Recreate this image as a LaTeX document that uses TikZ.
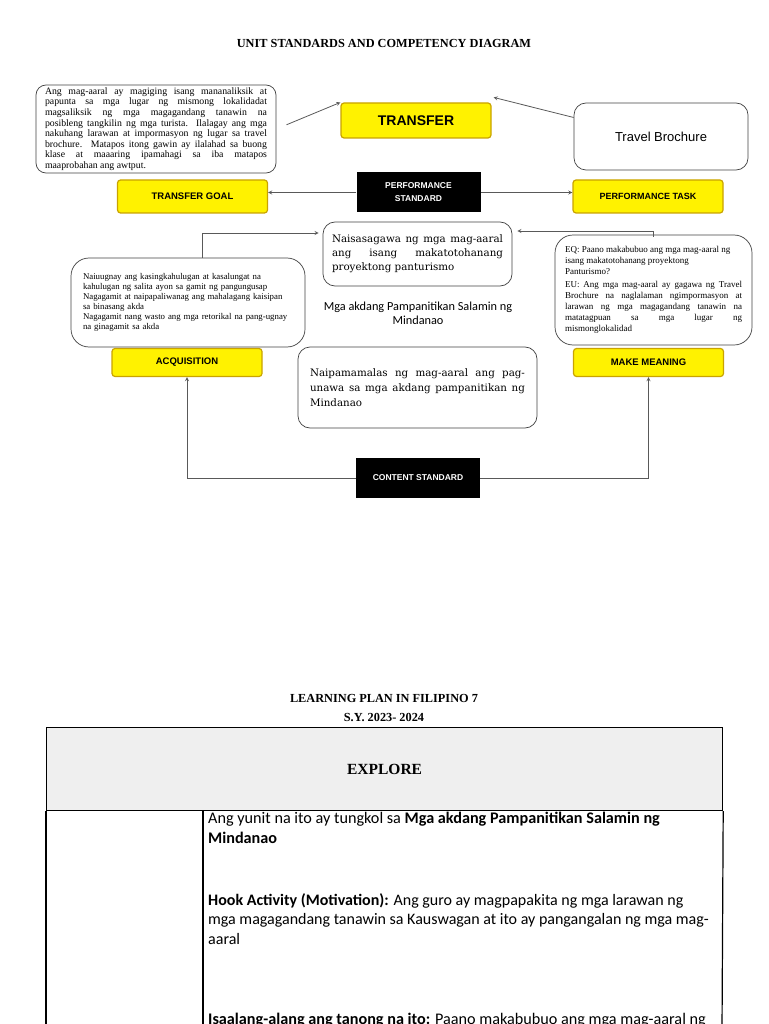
\documentclass[tikz,border=0pt]{standalone}
\usepackage{fontspec}
\setmainfont{Liberation Serif}
\setsansfont{Liberation Sans}
\newfontfamily\calib{Carlito}
\newfontfamily\wideserif{DejaVu Serif}
\usepackage{tikz}
\usetikzlibrary{arrows,positioning}
\definecolor{goldline}{HTML}{C9A300}
\definecolor{headgray}{HTML}{EFEFEF}
\newcommand{\fs}[2]{\fontsize{#1}{#2}\selectfont}
\hyphenpenalty=10000

\begin{document}
\begin{tikzpicture}[x=1pt,y=-1pt,
font=\rmfamily,
goalbox/.style={draw=goldline,fill=yellow,line width=1.2pt,rounded corners=3pt,
  font=\sffamily\bfseries\fs{9.5}{11},minimum width=150pt,minimum height=33pt,inner sep=0pt},
stdbox/.style={fill=black,text=white,align=center,
  font=\sffamily\bfseries\fs{8.5}{13},minimum width=124pt,minimum height=40pt,inner sep=0pt},
notebox/.style={draw=black!75,line width=0.7pt,rounded corners=12pt,inner ysep=2pt},
link/.style={->,>=stealth,draw=black!65,line width=0.8pt}]
    % page size
    \useasboundingbox (0,0) rectangle (768,1024);
    \clip (0,0) rectangle (768,1024);

    % Title
    \node (title) at (384,43) {\bfseries\fs{12.3}{14}UNIT STANDARDS AND COMPETENCY DIAGRAM};

    % top row
    \node[notebox,rounded corners=10pt,minimum width=240pt,minimum height=88pt,
        text width=222pt,inner xsep=9pt,inner ysep=0pt,align=justify,font=\fs{9.8}{10.6}]
        (tgnote) at (156,129) {Ang mag-aaral ay magiging isang mananaliksik at\linebreak papunta sa mga lugar ng mismong lokalidadat\linebreak magsaliksik ng mga magagandang tanawin na\linebreak posibleng tangkilin ng mga turista. Ilalagay ang mga\linebreak nakuhang larawan at impormasyon ng lugar sa travel\linebreak brochure. Matapos itong gawin ay ilalahad sa buong\linebreak klase at maaaring ipamahagi sa iba matapos\linebreak maaprobahan ang awtput.};
    \node[goalbox,minimum height=35pt,font=\sffamily\bfseries\fs{14}{16}] (transfer) at (416,120.5) {TRANSFER};
    \node[notebox,minimum width=174pt,minimum height=67pt,font=\sffamily\fs{13}{15}]
        (brochure) at (661,136.5) {Travel Brochure};

    \draw[link,shorten <=11pt] (tgnote.east) -- (transfer.north west);
    \draw[link] ([yshift=19pt]brochure.west) -- ([shift={(2pt,5pt)}]transfer.north east);

    % performance row
    \node[goalbox] (tgoal) at (192.5,196.5) {TRANSFER GOAL};
    \node[stdbox] (perfstd) at (418.5,192.5) {PERFORMANCE\\STANDARD};
    \node[goalbox,font=\sffamily\bfseries\fs{9}{11}] (ptask) at (648,196.5) {PERFORMANCE TASK};

    \draw[link] (perfstd.west) -- (perfstd.west -| tgoal.east);
    \draw[link] (perfstd.east) -- (perfstd.east -| ptask.west);

    % middle notes
    \node[notebox,minimum width=189pt,minimum height=64pt,text width=171pt,
        inner xsep=9pt,align=justify,font=\wideserif\fs{10.3}{14}]
        (perfnote) at (417.5,254) {Naisasagawa ng mga mag-aaral ang isang makatotohanang proyektong panturismo};
    \node[align=center,font=\calib\fs{12.3}{14}] (unit) at (418,313) {Mga akdang Pampanitikan Salamin ng\\Mindanao};

    \node[notebox,rounded corners=18pt,minimum width=234pt,minimum height=89pt,
        text width=210pt,inner xsep=12pt,align=left,font=\fs{8.8}{10}]
        (acqnote) at (188,302.5) {Naiuugnay ang kasingkahulugan at kasalungat na\\ kahulugan ng salita ayon sa gamit ng pangungusap\\ Nagagamit at naipapaliwanag ang mahalagang kaisipan\\ sa binasang akda\\ Nagagamit nang wasto ang mga retorikal na pang-ugnay\\ na ginagamit sa akda};
    \node[notebox,rounded corners=18pt,minimum width=197pt,minimum height=110pt,
        text width=177pt,inner xsep=10pt,align=justify,font=\fs{9}{11}]
        (eqnote) at (653.5,290) {EQ: Paano makabubuo ang mga mag-aaral ng\\ isang makatotohanang proyektong\\ Panturismo?\par\vspace{2pt}
        EU: Ang mga mag-aaral ay gagawa ng Travel\linebreak Brochure na naglalaman ngimpormasyon at\linebreak larawan ng mga magagandang tanawin na\linebreak matatagpuan sa mga lugar ng\linebreak mismonglokalidad};

    \draw[link] ([xshift=14pt]acqnote.north) |- ([shift={(-4pt,21pt)}]perfnote.west);
    \draw[link] ([yshift=-2pt]eqnote.north) |- ([shift={(5pt,23pt)}]perfnote.east);

    % acquisition row
    \node[goalbox,minimum height=28pt] (acq) at (187,362.5) {ACQUISITION};
    \node[goalbox,minimum height=28pt] (mmean) at (648.5,362.5) {MAKE MEANING};
    \node[notebox,minimum width=239pt,minimum height=81pt,text width=215pt,
        inner xsep=12pt,align=justify,font=\wideserif\fs{10.3}{15}]
        (contnote) at (417.5,387.5) {Naipamamalas ng mag-aaral ang pag-unawa sa mga akdang pampanitikan ng Mindanao};

    \node[stdbox] (cstd) at (418,478) {CONTENT STANDARD};
    \draw[link] (cstd.west) -| (acq.south);
    \draw[link] (cstd.east) -| (mmean.south);

    % learning plan
    \node (lptitle) at (384,698) {\bfseries\fs{12.3}{14}LEARNING PLAN IN FILIPINO 7};
    \node (sy) at (384,717) {\bfseries\fs{12.3}{14}S.Y. 2023- 2024};

    \node[draw,line width=1.2pt,fill=headgray,anchor=north west,minimum width=676pt,
        minimum height=83pt,font=\bfseries\fs{15.5}{18}] (explore) at (46,727) {EXPLORE};
    \draw[line width=1.2pt] (explore.south west) -- (46,1030);
    \draw[line width=1.2pt] (explore.south east) -- (722,1030);
    \draw[line width=1.2pt] (203,810) -- (203,1030);

    \node[anchor=north west,inner sep=0pt,align=left,font=\calib\fs{16.2}{20}]
        (cell1) at (208,812) {Ang yunit na ito ay tungkol sa \textbf{Mga akdang Pampanitikan Salamin ng}\\ \textbf{Mindanao}};
    \node[anchor=north west,inner sep=0pt,align=left,font=\calib\fs{16}{19.5}]
        (cell2) at (208,893) {\textbf{Hook Activity (Motivation):} Ang guro ay magpapakita ng mga larawan ng\\ mga magagandang tanawin sa Kauswagan at ito ay pangangalan ng mga mag-\\ aaral};
    \node[anchor=north west,inner sep=0pt,align=left,font=\calib\fs{16.2}{20}]
        (cell3) at (208,1013) {\textbf{Isaalang-alang ang tanong na ito:} Paano makabubuo ang mga mag-aaral ng};
\end{tikzpicture}
\end{document}
